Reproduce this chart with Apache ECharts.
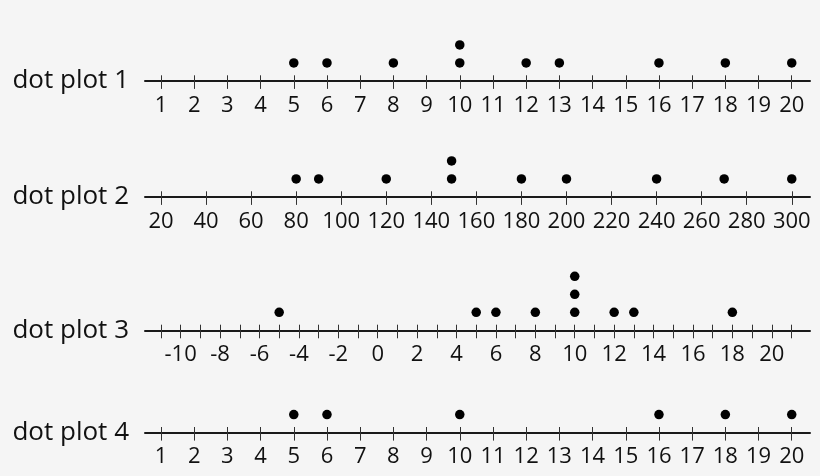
<!DOCTYPE html>
<html>
<head>
<meta charset="utf-8">
<script src="https://cdn.jsdelivr.net/npm/echarts@6/dist/echarts.min.js"></script>
<style>
html,body{margin:0;padding:0;background:#f5f5f5;}
#c{width:820px;height:476px;}
</style>
</head>
<body>
<div id="c"></div>
<script>
var plotNames = ['dot plot 1', 'dot plot 2', 'dot plot 3', 'dot plot 4'];
var plot1Values = [5, 6, 8, 10, 10, 12, 13, 16, 18, 20];
var plot2Values = [80, 90, 120, 149, 149, 180, 200, 240, 270, 300];
var plot3Values = [-5, 5, 6, 8, 10, 10, 10, 12, 13, 18];
var plot4Values = [5, 6, 10, 16, 18, 20];

var plot1Ticks = [1,2,3,4,5,6,7,8,9,10,11,12,13,14,15,16,17,18,19,20];
var plot1Labels = [1,2,3,4,5,6,7,8,9,10,11,12,13,14,15,16,17,18,19,20];
var plot2Ticks = [20,40,60,80,100,120,140,160,180,200,220,240,260,280,300];
var plot2Labels = [20,40,60,80,100,120,140,160,180,200,220,240,260,280,300];
var plot3Ticks = [-11,-10,-9,-8,-7,-6,-5,-4,-3,-2,-1,0,1,2,3,4,5,6,7,8,9,10,11,12,13,14,15,16,17,18,19,20,21];
var plot3Labels = [-10,-8,-6,-4,-2,0,2,4,6,8,10,12,14,16,18,20];
var plot4Ticks = [1,2,3,4,5,6,7,8,9,10,11,12,13,14,15,16,17,18,19,20];
var plot4Labels = [1,2,3,4,5,6,7,8,9,10,11,12,13,14,15,16,17,18,19,20];

var plots = [
  {name: plotNames[0], values: plot1Values, ticks: plot1Ticks, labels: plot1Labels, min: 0.518, max: 20.55, lineY: 83.3},
  {name: plotNames[1], values: plot2Values, ticks: plot2Ticks, labels: plot2Labels, min: 12.9, max: 308.1, lineY: 199.3},
  {name: plotNames[2], values: plot3Values, ticks: plot3Ticks, labels: plot3Labels, min: -11.81, max: 21.94, lineY: 332.7},
  {name: plotNames[3], values: plot4Values, ticks: plot4Ticks, labels: plot4Labels, min: 0.518, max: 20.55, lineY: 435}
];

var FONT = 'Open Sans';
var unitPx = 18;
var yMin = 1 - 20.4 / unitPx;
var yMax = 3.5;
var gridH = (yMax - yMin) * unitPx;

var grids = [], xAxes = [], yAxes = [], series = [];
plots.forEach(function (p, i) {
  grids.push({left: 145, right: 10, top: p.lineY - gridH, height: gridH});
  xAxes.push({
    type: 'value', gridIndex: i, position: 'bottom', min: p.min, max: p.max,
    name: p.name, nameLocation: 'start', nameGap: 16,
    nameTextStyle: {fontFamily: FONT, fontSize: 26, color: '#111', verticalAlign: 'middle'},
    axisLine: {show: true, lineStyle: {color: '#1a1a1a', width: 2}},
    axisTick: {show: true, inside: false, length: 8, customValues: p.ticks, lineStyle: {color: '#333', width: 1}},
    axisLabel: {show: true, customValues: p.labels, margin: 11, fontFamily: FONT, fontSize: 22, color: '#111'},
    splitLine: {show: false}
  });
  xAxes.push({
    type: 'value', gridIndex: i, position: 'bottom', min: p.min, max: p.max,
    axisLine: {show: false},
    axisTick: {show: true, inside: true, length: 8, customValues: p.ticks, lineStyle: {color: '#333', width: 1}},
    axisLabel: {show: false},
    splitLine: {show: false}
  });
  yAxes.push({type: 'value', gridIndex: i, min: yMin, max: yMax, show: false});
  var counts = {};
  var pts = p.values.map(function (v) {
    counts[v] = (counts[v] || 0) + 1;
    return [v, counts[v]];
  });
  series.push({
    type: 'scatter', xAxisIndex: i * 2, yAxisIndex: i,
    data: pts, symbol: 'circle', symbolSize: 9.5,
    itemStyle: {color: '#000', opacity: 1}, silent: true, animation: false
  });
});

var chart = echarts.init(document.getElementById('c'), null, {renderer: 'canvas'});
chart.setOption({
  backgroundColor: '#f5f5f5',
  animation: false,
  grid: grids,
  xAxis: xAxes,
  yAxis: yAxes,
  series: series
});
</script>
</body>
</html>
